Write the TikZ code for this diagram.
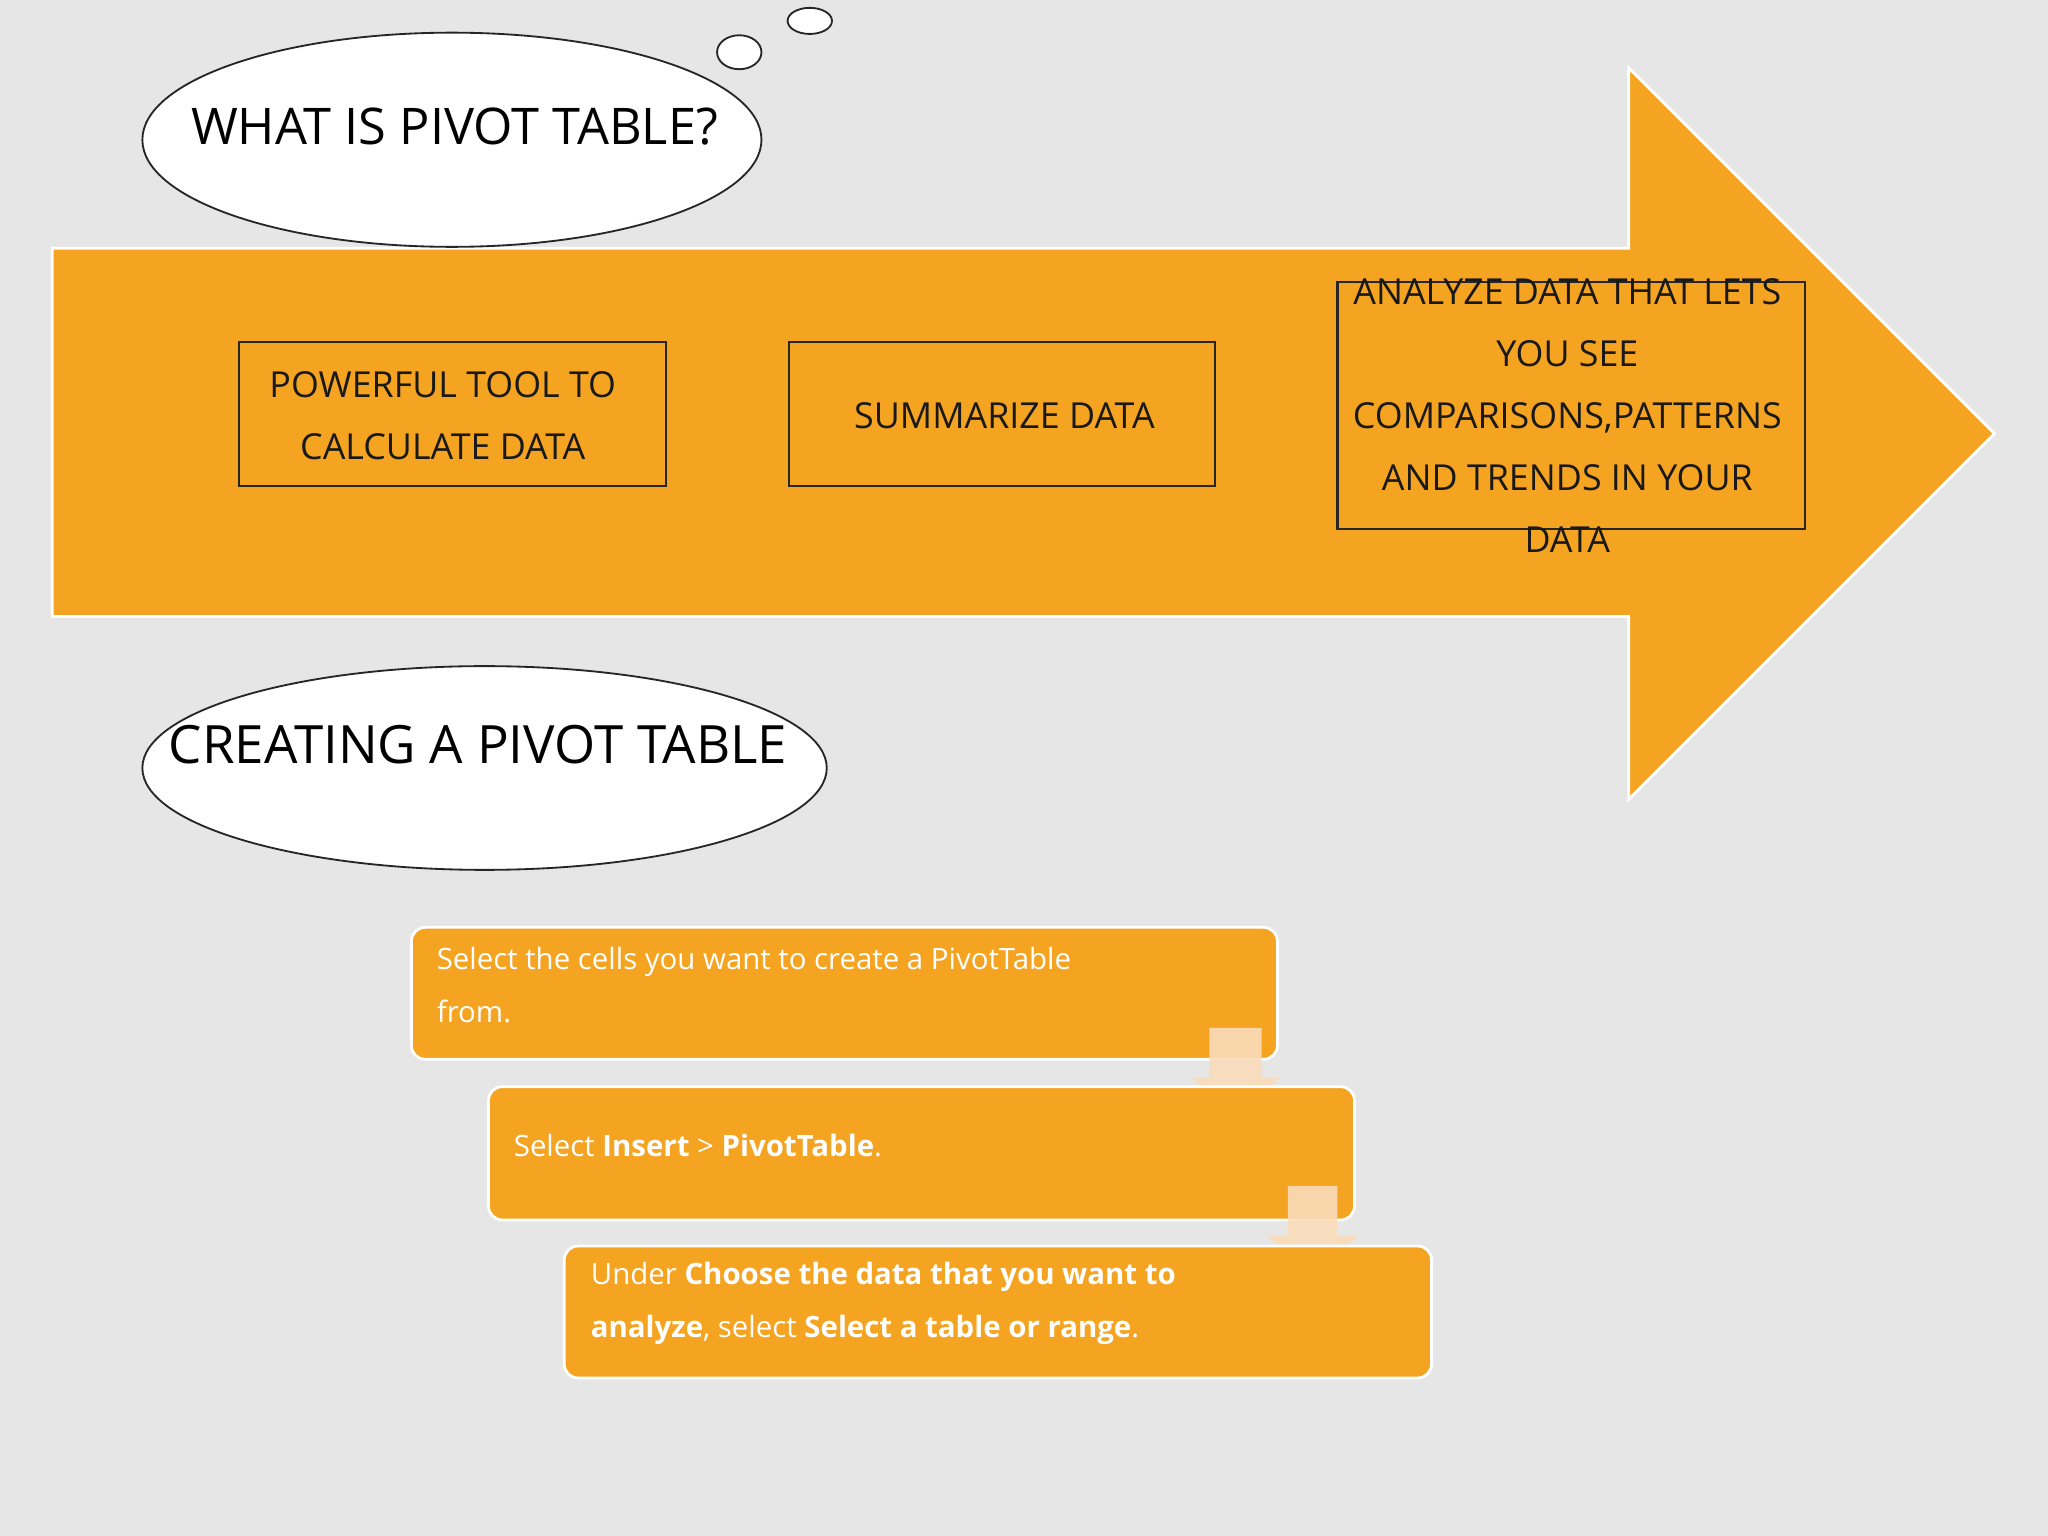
\documentclass[tikz,border=0pt]{standalone}
\usepackage{fontspec}
\setmainfont{Open Sans}
\begin{document}
\begin{tikzpicture}[x=0.01cm,y=-0.01cm,
  bub/.style={draw=black!85,fill=white,line width=0.4pt},
  tbox/.style={draw=black!85,line width=0.5pt},
  step1/.style={draw=white,fill=orng,rounded corners=3pt,line width=0.6pt},
  dn/.style={fill=peach,draw=none,opacity=0.9},
  btxt/.style={font=\fontsize{7.8}{13.5}\selectfont,align=center,text=black!90},
  wtxt/.style={font=\fontsize{6.4}{11.5}\selectfont,text=white,align=left,anchor=west}]
\definecolor{orng}{HTML}{F5A422}
\definecolor{peach}{HTML}{FADBBA}
\fill[gray!10!white!95!black] (0,0) rectangle (1568,1176);
\useasboundingbox (0,0) rectangle (1568,1176);
% big arrow
\draw[fill=orng,draw=white,line width=0.6pt] (40,190) -- (1247,190) -- (1247,52) -- (1527,332) -- (1247,612) -- (1247,472) -- (40,472) -- cycle;
% bubbles
\draw[bub] (346,107) ellipse [x radius=237,y radius=82];
\draw[bub] (566,40) ellipse [x radius=17,y radius=13];
\draw[bub] (620,16) ellipse [x radius=17,y radius=10];
\node[font=\fontsize{11}{13}\selectfont] (t1) at (348,97) {WHAT IS PIVOT TABLE?};
\draw[bub] (371,588) ellipse [x radius=262,y radius=78];
\node[font=\fontsize{11.5}{13}\selectfont] (t2) at (366,570) {CREATING A PIVOT TABLE};
% boxes
\draw[tbox] (183,262) rectangle (510,372);
\node[btxt] (b1) at (339,318) {POWERFUL TOOL TO\\CALCULATE DATA};
\draw[tbox] (604,262) rectangle (930,372);
\node[btxt] (b2) at (769,318) {SUMMARIZE DATA};
\draw[tbox] (1024,216) rectangle (1382,405);
\node[btxt] (b3) at (1200,318) {ANALYZE DATA THAT LETS\\YOU SEE\\COMPARISONS,PATTERNS\\AND TRENDS IN YOUR\\DATA};
% steps
\draw[step1] (315,710) rectangle (978,811);
\node[wtxt] (s1) at (322,754) {Select the cells you want to create a PivotTable\\from.};
\draw[dn] (926,787) -- (966,787) -- (966,825) -- (980,825) -- (946,856) -- (912,825) -- (926,825) -- cycle;
\draw[step1] (374,832) rectangle (1037,934);
\node[wtxt] (s2) at (381,877) {Select \textbf{Insert} > \textbf{PivotTable}.};
\draw[dn] (986,908) -- (1024,908) -- (1024,946) -- (1040,946) -- (1005,977) -- (970,946) -- (986,946) -- cycle;
\draw[step1] (432,954) rectangle (1096,1055);
\node[wtxt] (s3) at (440,998) {Under \textbf{Choose the data that you want to}\\\textbf{analyze}, select \textbf{Select a table or range}.};
\end{tikzpicture}
\end{document}
